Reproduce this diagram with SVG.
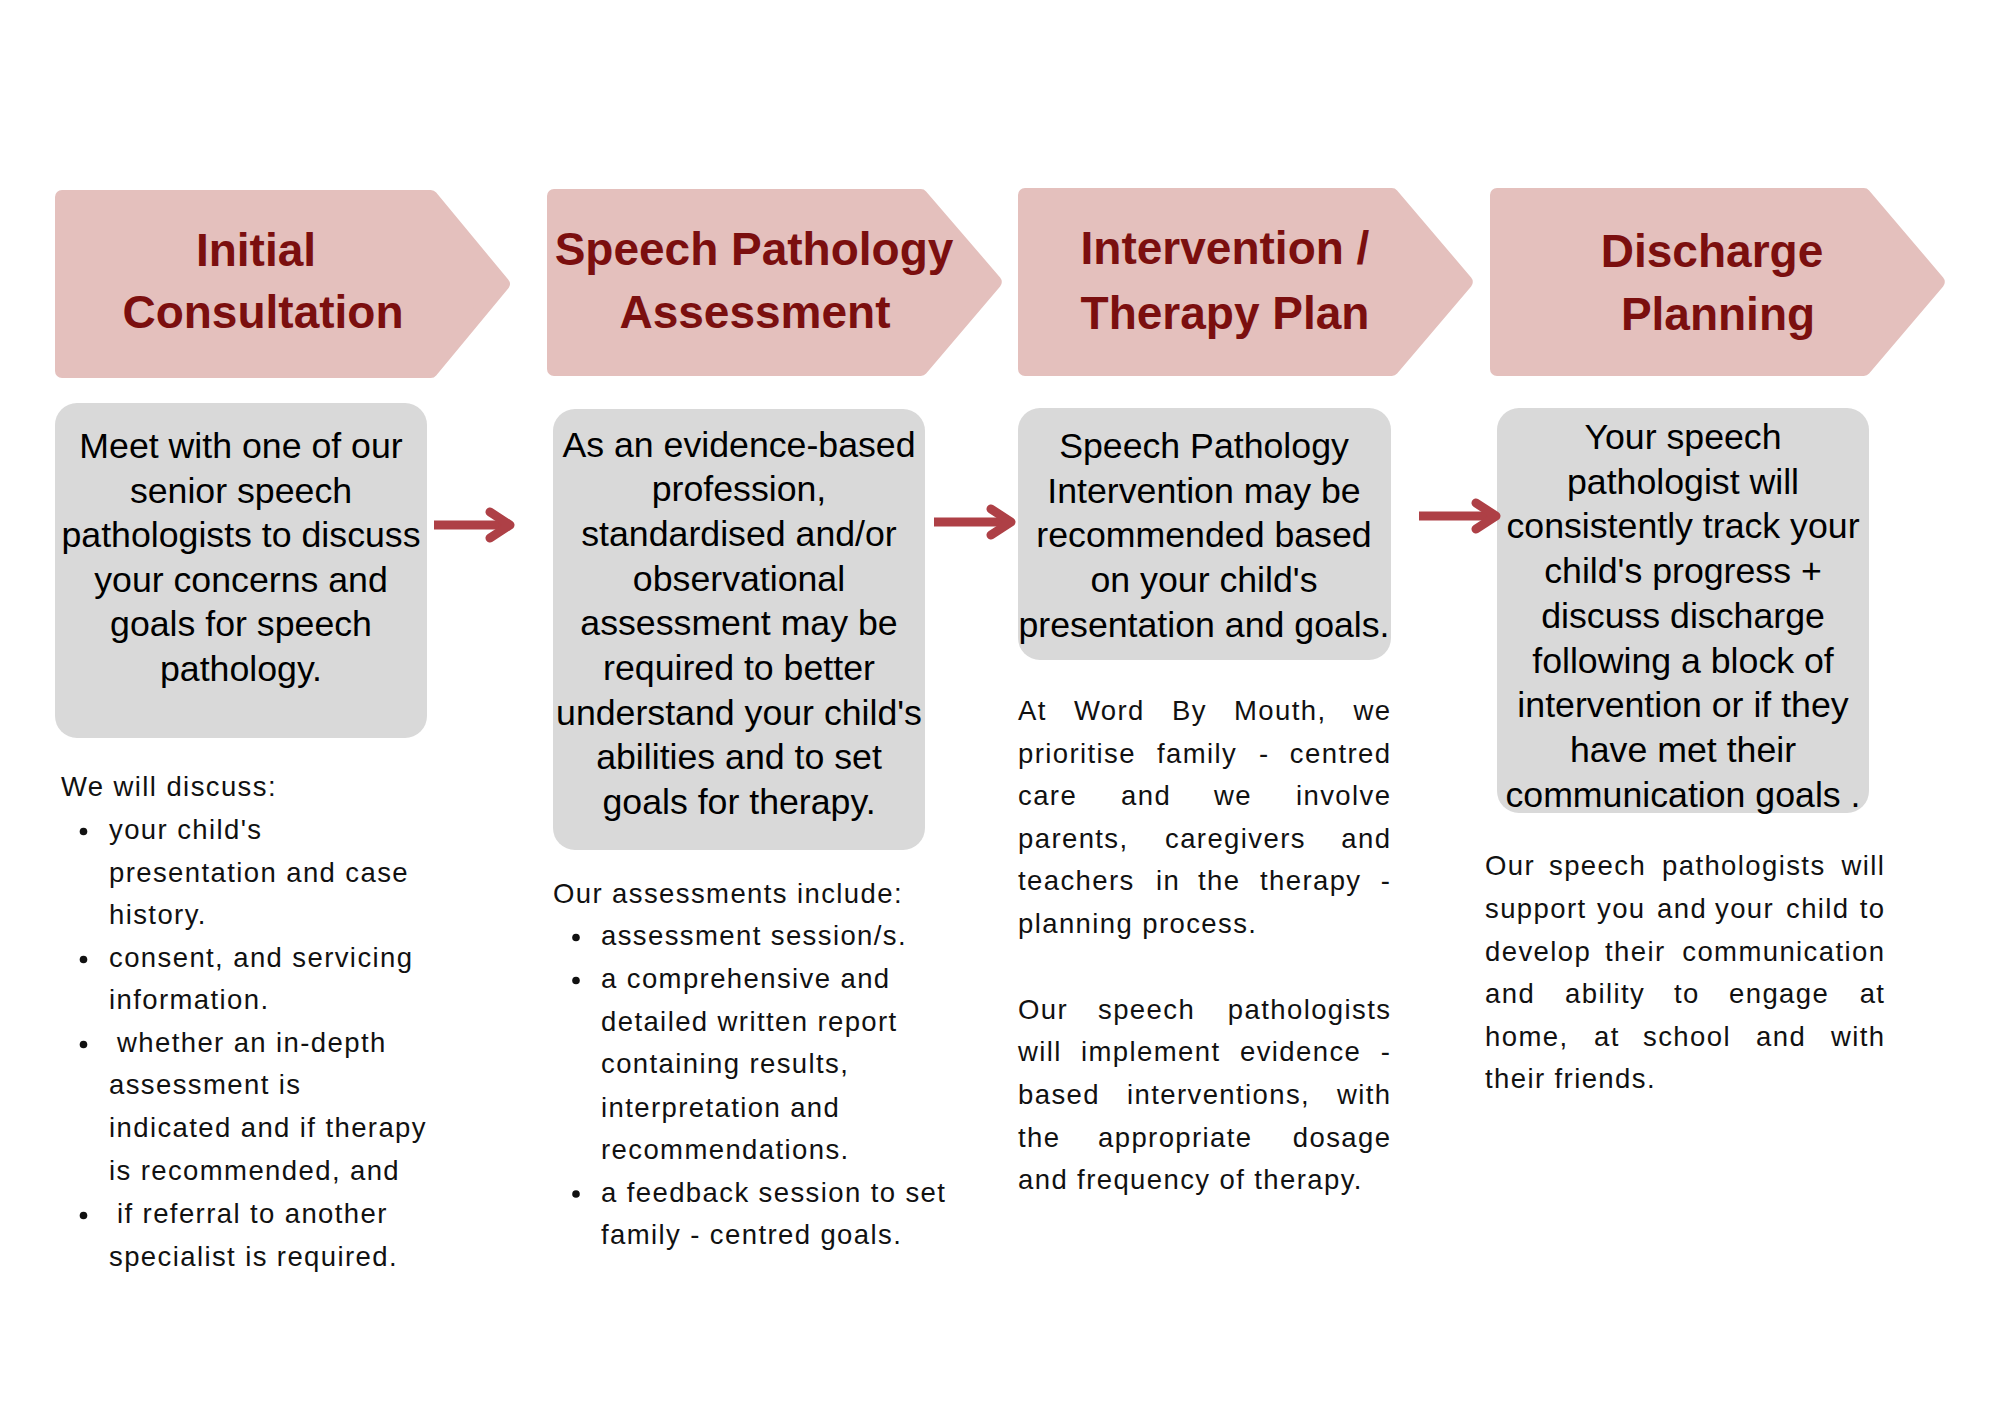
<svg xmlns="http://www.w3.org/2000/svg" width="2000" height="1414" viewBox="0 0 2000 1414">
<defs>
<style>
.chev{fill:#e4c0bd;stroke:#e4c0bd;stroke-width:14;stroke-linejoin:round}
.title{font-family:"Liberation Sans",Arial,sans-serif;font-weight:bold;font-size:46px;fill:#7b0f0f;text-anchor:middle}
.box{fill:#d9d9d9}
.bt{font-family:"Liberation Sans",Arial,sans-serif;font-size:35.7px;fill:#000;text-anchor:middle}
.body{font-family:"Liberation Sans",Arial,sans-serif;font-size:27.5px;letter-spacing:1.4px;fill:#111}
.end{text-anchor:end}
.arr{fill:none;stroke:#ae4046;stroke-width:9}
.head{fill:none;stroke:#ae4046;stroke-width:9;stroke-linecap:round;stroke-linejoin:round}
.dot{fill:#111}
</style>
</defs>
<rect width="2000" height="1414" fill="#ffffff"/>

<g id="step1">
<polygon class="chev" points="62,197 430.8,197 502.8,284 430.8,371 62,371"/>
<text class="title"><tspan x="256" y="266">Initial</tspan><tspan x="263" y="328">Consultation</tspan></text>
<rect class="box" x="55" y="403" width="372" height="335" rx="22"/>
<text class="bt"><tspan x="241" y="458">Meet with one of our</tspan><tspan x="241" y="502.5">senior speech</tspan><tspan x="241" y="547">pathologists to discuss</tspan><tspan x="241" y="591.5">your concerns and</tspan><tspan x="241" y="636">goals for speech</tspan><tspan x="241" y="680.5">pathology.</tspan></text>
<text class="body"><tspan x="61" y="796">We will discuss:</tspan><tspan x="109" y="839">your child's</tspan><tspan x="109" y="881.5">presentation and case</tspan><tspan x="109" y="924">history.</tspan><tspan x="109" y="967">consent, and servicing</tspan><tspan x="109" y="1009">information.</tspan><tspan x="117" y="1052">whether an in-depth</tspan><tspan x="109" y="1094">assessment is</tspan><tspan x="109" y="1137">indicated and if therapy</tspan><tspan x="109" y="1180">is recommended, and</tspan><tspan x="117" y="1223">if referral to another</tspan><tspan x="109" y="1265.5">specialist is required.</tspan></text>
<circle class="dot" cx="83.5" cy="831.5" r="3.8"/>
<circle class="dot" cx="83.5" cy="959.5" r="3.8"/>
<circle class="dot" cx="83.5" cy="1044.5" r="3.8"/>
<circle class="dot" cx="83.5" cy="1215.5" r="3.8"/>
</g>

<g id="step2">
<polygon class="chev" points="554,196 920.8,196 994.8,282 920.8,369 554,369"/>
<text class="title"><tspan x="754" y="265">Speech Pathology</tspan><tspan x="755" y="328">Assessment</tspan></text>
<rect class="box" x="553" y="409" width="372" height="441" rx="22"/>
<text class="bt"><tspan x="739" y="456.5">As an evidence-based</tspan><tspan x="739" y="501.2">profession,</tspan><tspan x="739" y="545.9">standardised and/or</tspan><tspan x="739" y="590.6">observational</tspan><tspan x="739" y="635.3">assessment may be</tspan><tspan x="739" y="680">required to better</tspan><tspan x="739" y="724.7">understand your child's</tspan><tspan x="739" y="769.4">abilities and to set</tspan><tspan x="739" y="814.1">goals for therapy.</tspan></text>
<text class="body"><tspan x="553" y="903">Our assessments include:</tspan><tspan x="601" y="945">assessment session/s.</tspan><tspan x="601" y="988">a comprehensive and</tspan><tspan x="601" y="1031">detailed written report</tspan><tspan x="601" y="1073">containing results,</tspan><tspan x="601" y="1116.5">interpretation and</tspan><tspan x="601" y="1158.5">recommendations.</tspan><tspan x="601" y="1201.5">a feedback session to set</tspan><tspan x="601" y="1243.5">family - centred goals.</tspan></text>
<circle class="dot" cx="576" cy="937.5" r="3.8"/>
<circle class="dot" cx="576" cy="980.5" r="3.8"/>
<circle class="dot" cx="576" cy="1194" r="3.8"/>
</g>

<g id="step3">
<polygon class="chev" points="1025,195 1391.8,195 1465.8,282 1391.8,369 1025,369"/>
<text class="title"><tspan x="1225" y="264">Intervention /</tspan><tspan x="1225" y="329">Therapy Plan</tspan></text>
<rect class="box" x="1018" y="408" width="373" height="252" rx="22"/>
<text class="bt"><tspan x="1204" y="458">Speech Pathology</tspan><tspan x="1204" y="502.7">Intervention may be</tspan><tspan x="1204" y="547.4">recommended based</tspan><tspan x="1204" y="592.1">on your child's</tspan><tspan x="1204" y="636.8">presentation and goals.</tspan></text>
<text class="body"><tspan x="1018" y="720">At</tspan><tspan x="1074" y="720">Word</tspan><tspan x="1172" y="720">By</tspan><tspan x="1234" y="720">Mouth,</tspan><tspan x="1391.4" y="720" class="end">we</tspan><tspan x="1018" y="762.5">prioritise</tspan><tspan x="1157" y="762.5">family</tspan><tspan x="1259" y="762.5">-</tspan><tspan x="1391.4" y="762.5" class="end">centred</tspan><tspan x="1018" y="805">care</tspan><tspan x="1121" y="805">and</tspan><tspan x="1214" y="805">we</tspan><tspan x="1391.4" y="805" class="end">involve</tspan><tspan x="1018" y="848">parents,</tspan><tspan x="1165" y="848">caregivers</tspan><tspan x="1391.4" y="848" class="end">and</tspan><tspan x="1018" y="890">teachers</tspan><tspan x="1156" y="890">in</tspan><tspan x="1198" y="890">the</tspan><tspan x="1260" y="890">therapy</tspan><tspan x="1391.4" y="890" class="end">-</tspan><tspan x="1018" y="933">planning process.</tspan><tspan x="1018" y="1019">Our</tspan><tspan x="1098" y="1019">speech</tspan><tspan x="1391.4" y="1019" class="end">pathologists</tspan><tspan x="1018" y="1061">will</tspan><tspan x="1081" y="1061">implement</tspan><tspan x="1240" y="1061">evidence</tspan><tspan x="1391.4" y="1061" class="end">-</tspan><tspan x="1018" y="1104">based</tspan><tspan x="1127" y="1104">interventions,</tspan><tspan x="1391.4" y="1104" class="end">with</tspan><tspan x="1018" y="1147">the</tspan><tspan x="1098" y="1147">appropriate</tspan><tspan x="1391.4" y="1147" class="end">dosage</tspan><tspan x="1018" y="1189">and frequency of therapy.</tspan></text>
</g>

<g id="step4">
<polygon class="chev" points="1497,195 1863.8,195 1937.8,282 1863.8,369 1497,369"/>
<text class="title"><tspan x="1712" y="267">Discharge</tspan><tspan x="1718" y="330">Planning</tspan></text>
<rect class="box" x="1497" y="408" width="372" height="405" rx="22"/>
<text class="bt"><tspan x="1683" y="449">Your speech</tspan><tspan x="1683" y="493.7">pathologist will</tspan><tspan x="1683" y="538.4">consistently track your</tspan><tspan x="1683" y="583.1">child's progress +</tspan><tspan x="1683" y="627.8">discuss discharge</tspan><tspan x="1683" y="672.5">following a block of</tspan><tspan x="1683" y="717.2">intervention or if they</tspan><tspan x="1683" y="761.9">have met their</tspan><tspan x="1683" y="806.6">communication goals .</tspan></text>
<text class="body"><tspan x="1485" y="875">Our</tspan><tspan x="1549" y="875">speech</tspan><tspan x="1662" y="875">pathologists</tspan><tspan x="1885.4" y="875" class="end">will</tspan><tspan x="1485" y="918">support</tspan><tspan x="1597" y="918">you</tspan><tspan x="1657" y="918">and</tspan><tspan x="1715" y="918">your</tspan><tspan x="1786" y="918">child</tspan><tspan x="1885.4" y="918" class="end">to</tspan><tspan x="1485" y="960.5">develop</tspan><tspan x="1605" y="960.5">their</tspan><tspan x="1885.4" y="960.5" class="end">communication</tspan><tspan x="1485" y="1003">and</tspan><tspan x="1565" y="1003">ability</tspan><tspan x="1674" y="1003">to</tspan><tspan x="1729" y="1003">engage</tspan><tspan x="1885.4" y="1003" class="end">at</tspan><tspan x="1485" y="1045.5">home,</tspan><tspan x="1594" y="1045.5">at</tspan><tspan x="1643" y="1045.5">school</tspan><tspan x="1756" y="1045.5">and</tspan><tspan x="1885.4" y="1045.5" class="end">with</tspan><tspan x="1485" y="1088">their friends.</tspan></text>
</g>

<g id="connectors">
<line class="arr" x1="434" y1="525" x2="506" y2="525"/>
<polyline class="head" points="490,512 510,525 490,538"/>
<line class="arr" x1="934" y1="522" x2="1007" y2="522"/>
<polyline class="head" points="991,509 1011,522 991,535"/>
<line class="arr" x1="1419" y1="516" x2="1492" y2="516"/>
<polyline class="head" points="1476,503 1496,516 1476,529"/>
</g>
</svg>
